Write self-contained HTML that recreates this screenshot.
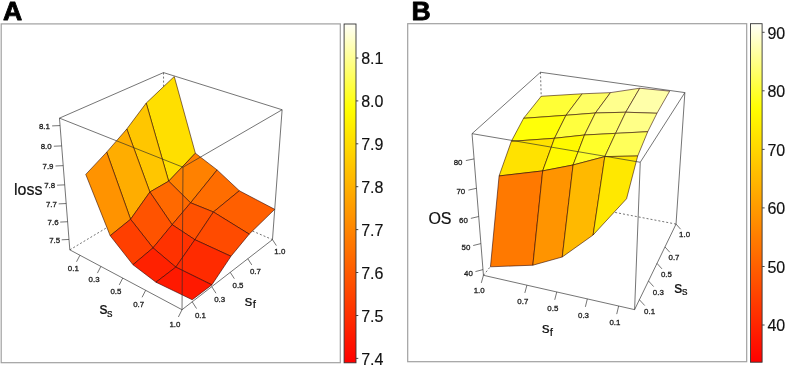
<!DOCTYPE html>
<html><head><meta charset="utf-8"><style>
html,body{margin:0;padding:0;background:#fff;}
body{width:785px;height:365px;overflow:hidden;position:relative;}
svg{position:absolute;left:0;top:0;}
text{font-family:"Liberation Sans",Arial,Helvetica,sans-serif;}
.bx{stroke:#2a2a2a;stroke-width:0.65;fill:none;}
.bd{stroke:#2a2a2a;stroke-width:0.65;stroke-dasharray:2 2;fill:none;}
.fc{stroke:rgba(40,0,0,0.75);stroke-width:0.75;stroke-linejoin:round;}
.tl{font-size:7.9px;fill:#222;stroke:#222;stroke-width:0.3px;text-anchor:middle;}
.cl{font-size:16px;fill:#111;stroke:#111;stroke-width:0.15px;}
.cbt{stroke:#333;stroke-width:0.9;}
.frame{fill:none;stroke:#a0a0a0;stroke-width:1.2;}
.cbar{stroke:#333;stroke-width:0.9;}
.pl{font-size:26.6px;font-weight:bold;fill:#000;stroke:#000;stroke-width:0.8px;stroke-linejoin:round;}
.at{font-size:16px;fill:#111;stroke:#111;stroke-width:0.2px;}
.sub{font-size:11px;fill:#111;stroke:#111;stroke-width:0.2px;}
</style></head><body>
<svg width="785" height="365" viewBox="0 0 785 365">
<defs><linearGradient id="hg" x1="0" y1="1" x2="0" y2="0">
<stop offset="0.00" stop-color="#ff0000"/>
<stop offset="0.02" stop-color="#ff0700"/>
<stop offset="0.04" stop-color="#ff0e00"/>
<stop offset="0.06" stop-color="#ff1400"/>
<stop offset="0.08" stop-color="#ff1b00"/>
<stop offset="0.10" stop-color="#ff2200"/>
<stop offset="0.12" stop-color="#ff2900"/>
<stop offset="0.14" stop-color="#ff3000"/>
<stop offset="0.16" stop-color="#ff3600"/>
<stop offset="0.18" stop-color="#ff3d00"/>
<stop offset="0.20" stop-color="#ff4400"/>
<stop offset="0.22" stop-color="#ff4b00"/>
<stop offset="0.24" stop-color="#ff5200"/>
<stop offset="0.26" stop-color="#ff5800"/>
<stop offset="0.28" stop-color="#ff5f00"/>
<stop offset="0.30" stop-color="#ff6600"/>
<stop offset="0.32" stop-color="#ff6d00"/>
<stop offset="0.34" stop-color="#ff7400"/>
<stop offset="0.36" stop-color="#ff7a00"/>
<stop offset="0.38" stop-color="#ff8100"/>
<stop offset="0.40" stop-color="#ff8800"/>
<stop offset="0.42" stop-color="#ff8f00"/>
<stop offset="0.44" stop-color="#ff9600"/>
<stop offset="0.46" stop-color="#ff9c00"/>
<stop offset="0.48" stop-color="#ffa300"/>
<stop offset="0.50" stop-color="#ffaa00"/>
<stop offset="0.52" stop-color="#ffb100"/>
<stop offset="0.54" stop-color="#ffb800"/>
<stop offset="0.56" stop-color="#ffbe00"/>
<stop offset="0.58" stop-color="#ffc500"/>
<stop offset="0.60" stop-color="#ffcc00"/>
<stop offset="0.62" stop-color="#ffd300"/>
<stop offset="0.64" stop-color="#ffda00"/>
<stop offset="0.66" stop-color="#ffe000"/>
<stop offset="0.68" stop-color="#ffe700"/>
<stop offset="0.70" stop-color="#ffee00"/>
<stop offset="0.72" stop-color="#fff500"/>
<stop offset="0.74" stop-color="#fffc00"/>
<stop offset="0.76" stop-color="#ffff0a"/>
<stop offset="0.78" stop-color="#ffff1e"/>
<stop offset="0.80" stop-color="#ffff31"/>
<stop offset="0.82" stop-color="#ffff45"/>
<stop offset="0.84" stop-color="#ffff59"/>
<stop offset="0.86" stop-color="#ffff6d"/>
<stop offset="0.88" stop-color="#ffff81"/>
<stop offset="0.90" stop-color="#ffff94"/>
<stop offset="0.92" stop-color="#ffffa8"/>
<stop offset="0.94" stop-color="#ffffbc"/>
<stop offset="0.96" stop-color="#ffffd0"/>
<stop offset="0.98" stop-color="#ffffe4"/>
<stop offset="1.00" stop-color="#fffff7"/>
</linearGradient></defs>
<text x="2.9" y="19.9" class="pl">A</text>
<text x="411.5" y="19.9" class="pl">B</text>
<rect x="1.2" y="23.9" width="339.1" height="338.8" class="frame"/>
<rect x="407.7" y="23.7" width="339" height="338" class="frame"/>
<rect x="344.1" y="24" width="11.9" height="338.8" fill="url(#hg)" class="cbar"/>
<rect x="750.5" y="23.7" width="11.6" height="338.5" fill="url(#hg)" class="cbar"/>
<line x1="356" y1="58.0" x2="358.3" y2="58.0" class="cbt"/><text x="361.2" y="64.3" class="cl">8.1</text>
<line x1="356" y1="100.9" x2="358.3" y2="100.9" class="cbt"/><text x="361.2" y="107.2" class="cl">8.0</text>
<line x1="356" y1="143.8" x2="358.3" y2="143.8" class="cbt"/><text x="361.2" y="150.1" class="cl">7.9</text>
<line x1="356" y1="186.7" x2="358.3" y2="186.7" class="cbt"/><text x="361.2" y="193.0" class="cl">7.8</text>
<line x1="356" y1="229.6" x2="358.3" y2="229.6" class="cbt"/><text x="361.2" y="235.9" class="cl">7.7</text>
<line x1="356" y1="272.5" x2="358.3" y2="272.5" class="cbt"/><text x="361.2" y="278.8" class="cl">7.6</text>
<line x1="356" y1="315.5" x2="358.3" y2="315.5" class="cbt"/><text x="361.2" y="321.8" class="cl">7.5</text>
<line x1="356" y1="358.4" x2="358.3" y2="358.4" class="cbt"/><text x="361.2" y="364.7" class="cl">7.4</text>
<line x1="762.2" y1="32.3" x2="764.6" y2="32.3" class="cbt"/><text x="767.4" y="38.6" class="cl">90</text>
<line x1="762.2" y1="90.8" x2="764.6" y2="90.8" class="cbt"/><text x="767.4" y="97.1" class="cl">80</text>
<line x1="762.2" y1="149.4" x2="764.6" y2="149.4" class="cbt"/><text x="767.4" y="155.7" class="cl">70</text>
<line x1="762.2" y1="207.9" x2="764.6" y2="207.9" class="cbt"/><text x="767.4" y="214.2" class="cl">60</text>
<line x1="762.2" y1="266.5" x2="764.6" y2="266.5" class="cbt"/><text x="767.4" y="272.8" class="cl">50</text>
<line x1="762.2" y1="325.0" x2="764.6" y2="325.0" class="cbt"/><text x="767.4" y="331.3" class="cl">40</text>
<line x1="69.82" y1="249.85" x2="164.31" y2="193.15" class="bd" />
<line x1="164.31" y1="193.15" x2="272.47" y2="239.62" class="bd" />
<line x1="163.51" y1="72.60" x2="164.31" y2="193.15" class="bd" />
<line x1="59.47" y1="118.14" x2="163.51" y2="72.60" class="bx" />
<line x1="163.51" y1="72.60" x2="282.12" y2="109.75" class="bx" />
<polygon points="146.20,103.10 174.25,76.50 195.36,153.19 168.66,181.20" fill="#ffdf00" class="fc"/>
<polygon points="126.81,129.00 146.20,103.10 168.66,181.20 149.86,192.01" fill="#ffc600" class="fc"/>
<polygon points="106.70,152.13 126.81,129.00 149.86,192.01 130.59,219.28" fill="#ffad00" class="fc"/>
<polygon points="85.77,174.41 106.70,152.13 130.59,219.28 110.20,235.71" fill="#ff9300" class="fc"/>
<polygon points="168.66,181.20 195.36,153.19 217.11,169.93 190.58,202.81" fill="#ff8100" class="fc"/>
<polygon points="149.86,192.01 168.66,181.20 190.58,202.81 172.13,224.70" fill="#ff6900" class="fc"/>
<polygon points="130.59,219.28 149.86,192.01 172.13,224.70 153.01,247.90" fill="#ff5300" class="fc"/>
<polygon points="110.20,235.71 130.59,219.28 153.01,247.90 132.96,264.72" fill="#ff3f00" class="fc"/>
<polygon points="190.58,202.81 217.11,169.93 239.33,190.76 213.41,211.99" fill="#ff6d00" class="fc"/>
<polygon points="172.13,224.70 190.58,202.81 213.41,211.99 194.89,239.71" fill="#ff5100" class="fc"/>
<polygon points="153.01,247.90 172.13,224.70 194.89,239.71 175.82,267.10" fill="#ff3200" class="fc"/>
<polygon points="132.96,264.72 153.01,247.90 175.82,267.10 155.96,282.22" fill="#ff2100" class="fc"/>
<polygon points="213.41,211.99 239.33,190.76 274.72,209.33 249.18,234.14" fill="#ff5f00" class="fc"/>
<polygon points="194.89,239.71 213.41,211.99 249.18,234.14 230.95,256.30" fill="#ff4b00" class="fc"/>
<polygon points="175.82,267.10 194.89,239.71 230.95,256.30 211.80,284.89" fill="#ff2b00" class="fc"/>
<polygon points="155.96,282.22 175.82,267.10 211.80,284.89 192.24,299.78" fill="#ff1900" class="fc"/>
<line x1="69.82" y1="249.85" x2="182.03" y2="309.71" class="bx" />
<line x1="182.03" y1="309.71" x2="272.47" y2="239.62" class="bx" />
<line x1="69.82" y1="249.85" x2="59.47" y2="118.14" class="bx" />
<line x1="272.47" y1="239.62" x2="282.12" y2="109.75" class="bx" />
<line x1="59.47" y1="118.14" x2="182.99" y2="167.23" class="bx" />
<line x1="182.99" y1="167.23" x2="282.12" y2="109.75" class="bx" />
<line x1="182.99" y1="167.23" x2="182.03" y2="309.71" class="bx" />
<line x1="483.45" y1="275.31" x2="544.40" y2="198.94" class="bd" />
<line x1="544.40" y1="198.94" x2="676.04" y2="224.09" class="bd" />
<line x1="540.46" y1="72.26" x2="544.40" y2="198.94" class="bd" />
<line x1="472.04" y1="133.65" x2="540.46" y2="72.26" class="bx" />
<line x1="540.46" y1="72.26" x2="684.86" y2="92.60" class="bx" />
<polygon points="565.98,115.29 523.59,118.32 541.21,96.28 582.15,93.80" fill="#ffff36" class="fc"/>
<polygon points="595.40,113.00 565.98,115.29 582.15,93.80 610.47,92.63" fill="#ffff65" class="fc"/>
<polygon points="625.75,112.22 595.40,113.00 610.47,92.63 639.75,88.22" fill="#ffff8d" class="fc"/>
<polygon points="656.98,113.27 625.75,112.22 639.75,88.22 669.64,91.13" fill="#ffffa9" class="fc"/>
<polygon points="554.51,138.28 511.33,141.33 523.59,118.32 565.98,115.29" fill="#ffff08" class="fc"/>
<polygon points="584.53,135.00 554.51,138.28 565.98,115.29 595.40,113.00" fill="#ffff3e" class="fc"/>
<polygon points="615.59,133.36 584.53,135.00 595.40,113.00 625.75,112.22" fill="#ffff67" class="fc"/>
<polygon points="647.73,131.71 615.59,133.36 625.75,112.22 656.98,113.27" fill="#ffff87" class="fc"/>
<polygon points="542.68,170.90 499.08,175.95 511.33,141.33 554.51,138.28" fill="#ffe200" class="fc"/>
<polygon points="573.09,164.99 542.68,170.90 554.51,138.28 584.53,135.00" fill="#fff900" class="fc"/>
<polygon points="604.81,156.60 573.09,164.99 584.53,135.00 615.59,133.36" fill="#ffff29" class="fc"/>
<polygon points="637.69,156.01 604.81,156.60 615.59,133.36 647.73,131.71" fill="#ffff5a" class="fc"/>
<polygon points="532.85,265.21 490.46,266.80 499.08,175.95 542.68,170.90" fill="#ff7900" class="fc"/>
<polygon points="562.24,257.00 532.85,265.21 542.68,170.90 573.09,164.99" fill="#ff9400" class="fc"/>
<polygon points="593.11,235.00 562.24,257.00 573.09,164.99 604.81,156.60" fill="#ffb900" class="fc"/>
<polygon points="626.55,198.75 593.11,235.00 604.81,156.60 637.69,156.01" fill="#ffe800" class="fc"/>
<line x1="483.45" y1="275.31" x2="634.60" y2="309.64" class="bx" />
<line x1="634.60" y1="309.64" x2="676.04" y2="224.09" class="bx" />
<line x1="483.45" y1="275.31" x2="472.04" y2="133.65" class="bx" />
<line x1="676.04" y1="224.09" x2="684.86" y2="92.60" class="bx" />
<line x1="472.04" y1="133.65" x2="640.26" y2="162.25" class="bx" />
<line x1="640.26" y1="162.25" x2="684.86" y2="92.60" class="bx" />
<line x1="640.26" y1="162.25" x2="634.60" y2="309.64" class="bx" />
<line x1="79.95" y1="255.26" x2="76.52" y2="261.77" class="bx"/>
<text x="73.3" y="270.9" class="tl">0.1</text>
<line x1="192.21" y1="301.82" x2="196.53" y2="308.55" class="bx"/>
<text x="200.4" y="317.9" class="tl">0.1</text>
<line x1="618.65" y1="306.01" x2="616.73" y2="314.11" class="bx"/>
<text x="614.9" y="325.1" class="tl">0.1</text>
<line x1="639.39" y1="299.74" x2="644.72" y2="305.54" class="bx"/>
<text x="649.6" y="314.2" class="tl">0.1</text>
<line x1="100.88" y1="266.42" x2="97.41" y2="273.10" class="bx"/>
<text x="94.1" y="282.4" class="tl">0.3</text>
<line x1="211.75" y1="286.68" x2="215.96" y2="293.22" class="bx"/>
<text x="219.7" y="302.4" class="tl">0.3</text>
<line x1="587.33" y1="298.90" x2="585.36" y2="306.88" class="bx"/>
<text x="583.5" y="317.8" class="tl">0.3</text>
<line x1="648.49" y1="280.96" x2="653.63" y2="286.58" class="bx"/>
<text x="658.3" y="295.0" class="tl">0.3</text>
<line x1="122.76" y1="278.09" x2="119.24" y2="284.93" class="bx"/>
<text x="115.9" y="294.4" class="tl">0.5</text>
<line x1="230.25" y1="272.34" x2="234.35" y2="278.70" class="bx"/>
<text x="238.0" y="287.6" class="tl">0.5</text>
<line x1="556.76" y1="291.96" x2="554.74" y2="299.83" class="bx"/>
<text x="552.8" y="310.6" class="tl">0.5</text>
<line x1="657.00" y1="263.39" x2="661.96" y2="268.86" class="bx"/>
<text x="666.4" y="277.1" class="tl">0.5</text>
<line x1="145.65" y1="290.30" x2="142.07" y2="297.31" class="bx"/>
<text x="138.7" y="307.0" class="tl">0.7</text>
<line x1="247.79" y1="258.75" x2="251.80" y2="264.93" class="bx"/>
<text x="255.4" y="273.7" class="tl">0.7</text>
<line x1="526.91" y1="285.18" x2="524.84" y2="292.94" class="bx"/>
<text x="522.8" y="303.6" class="tl">0.7</text>
<line x1="664.98" y1="246.93" x2="669.77" y2="252.25" class="bx"/>
<text x="674.0" y="260.4" class="tl">0.7</text>
<line x1="182.03" y1="309.71" x2="178.38" y2="317.00" class="bx"/>
<text x="174.9" y="327.0" class="tl">1.0</text>
<line x1="272.47" y1="239.62" x2="276.34" y2="245.57" class="bx"/>
<text x="279.8" y="254.1" class="tl">1.0</text>
<line x1="483.45" y1="275.31" x2="481.31" y2="282.91" class="bx"/>
<text x="479.2" y="293.4" class="tl">1.0</text>
<line x1="676.04" y1="224.09" x2="680.60" y2="229.20" class="bx"/>
<text x="684.6" y="237.1" class="tl">1.0</text>
<line x1="60.06" y1="125.59" x2="52.13" y2="125.90" class="bx"/>
<text x="44.4" y="128.9" class="tl">8.1</text>
<line x1="61.65" y1="145.90" x2="53.83" y2="146.22" class="bx"/>
<text x="46.2" y="149.3" class="tl">8.0</text>
<line x1="63.20" y1="165.65" x2="55.50" y2="165.97" class="bx"/>
<text x="48.0" y="169.0" class="tl">7.9</text>
<line x1="64.71" y1="184.86" x2="57.11" y2="185.19" class="bx"/>
<text x="49.7" y="188.2" class="tl">7.8</text>
<line x1="66.18" y1="203.54" x2="58.68" y2="203.89" class="bx"/>
<text x="51.4" y="207.0" class="tl">7.7</text>
<line x1="67.61" y1="221.73" x2="60.21" y2="222.09" class="bx"/>
<text x="53.1" y="225.2" class="tl">7.6</text>
<line x1="69.00" y1="239.45" x2="61.70" y2="239.81" class="bx"/>
<text x="54.7" y="242.9" class="tl">7.5</text>
<line x1="474.07" y1="158.90" x2="465.85" y2="160.59" class="bx"/>
<text x="458.1" y="164.5" class="tl">80</text>
<line x1="476.44" y1="188.32" x2="468.40" y2="190.10" class="bx"/>
<text x="460.8" y="194.1" class="tl">70</text>
<line x1="478.71" y1="216.53" x2="470.85" y2="218.38" class="bx"/>
<text x="463.4" y="222.5" class="tl">60</text>
<line x1="480.89" y1="243.60" x2="473.20" y2="245.52" class="bx"/>
<text x="466.0" y="249.7" class="tl">50</text>
<line x1="482.99" y1="269.60" x2="475.45" y2="271.58" class="bx"/>
<text x="468.4" y="275.8" class="tl">40</text>
<text x="14" y="195.2" class="at">loss</text>
<text x="99.6" y="313.9" class="at">s</text><text x="107" y="316.8" class="sub">s</text>
<text x="244.7" y="305.5" class="at" style="font-size:15px">s</text><text x="252.7" y="308.3" class="sub" style="font-size:11.5px">f</text>
<text x="428.4" y="223.6" class="at">OS</text>
<text x="541.9" y="333.2" class="at" style="font-size:15px">s</text><text x="549.7" y="335.6" class="sub" style="font-size:11.5px">f</text>
<text x="674.2" y="293" class="at">s</text><text x="681.9" y="295.3" class="sub">s</text>
</svg>
</body></html>
